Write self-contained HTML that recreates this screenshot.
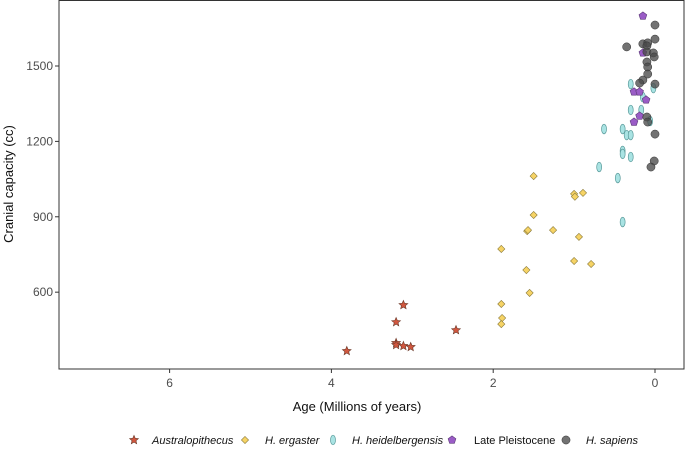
<!DOCTYPE html>
<html><head><meta charset="utf-8"><style>
body{margin:0;background:#fff}
svg text{font-family:"Liberation Sans",sans-serif}
</style></head><body>
<svg id="chart" width="685" height="455" viewBox="0 0 685 455">
<rect x="0" y="0" width="685" height="455" fill="#fff"/>
<g id="marks"></g>
<g id="axes"></g>
<g id="legend"></g>
</svg>
<script>
const ausAge=[3.81,3.20,3.11,3.20,3.20,3.11,3.02,2.46];
const ausCap=[366,481,549,398,390,386,382,449];
const ergAge=[1.50,1.00,0.99,0.89,1.50,1.58,1.57,1.26,0.94,1.90,1.00,0.79,1.59,1.55,1.90,1.89,1.90];
const ergCap=[1062,991,980,995,907,843,847,847,820,772,724,712,688,597,553,497,473];
const heiAge=[0.30,0.02,0.15,0.30,0.17,0.06,0.63,0.40,0.35,0.30,0.40,0.40,0.30,0.69,0.46,0.40];
const heiCap=[1428,1412,1376,1325,1325,1281,1249,1249,1225,1225,1162,1150,1138,1098,1054,879];
const lpAge=[0.15,0.15,0.26,0.19,0.11,0.19,0.26];
const lpCap=[1699,1552,1397,1397,1365,1301,1277];
const sapAge=[0.0,0.0,0.35,0.15,0.09,0.10,0.10,0.02,0.01,0.10,0.09,0.09,0.15,0.19,0.0,0.10,0.09,0.0,0.01,0.05];
const sapCap=[1663,1607,1576,1588,1592,1580,1556,1552,1536,1516,1496,1468,1444,1432,1428,1297,1277,1229,1122,1098];
const xTicks=[6,4,2,0];
const yTicks=[600,900,1200,1500];
const legendLabels=["Australopithecus","H. ergaster","H. heidelbergensis","Late Pleistocene","H. sapiens"];

const NS="http://www.w3.org/2000/svg";
const L=59,R=684,T=0,B=369;
function xs(a){return 655-a*80.9;}
function ys(v){return 66+(1500-v)*0.2513;}
function mk(tag,attrs,parent){const e=document.createElementNS(NS,tag);for(const k in attrs)e.setAttribute(k,attrs[k]);parent.appendChild(e);return e;}
function starPts(cx,cy,r){let p=[];for(let i=0;i<10;i++){const rr=i%2?r*0.45:r;const a=-Math.PI/2+i*Math.PI/5;p.push((cx+rr*Math.cos(a)).toFixed(1)+","+(cy+rr*Math.sin(a)).toFixed(1));}return p.join(" ");}
function pentPts(cx,cy,r){let p=[];for(let i=0;i<5;i++){const a=-Math.PI/2+i*2*Math.PI/5;p.push((cx+r*Math.cos(a)).toFixed(1)+","+(cy+r*Math.sin(a)).toFixed(1));}return p.join(" ");}
function drawShape(kind,cx,cy,parent){
  let e;
  if(kind==0)e=mk("polygon",{points:starPts(cx,cy,4.6),fill:"#d1573f",stroke:"#6b3a2a","stroke-width":0.6},parent);
  else if(kind==1)e=mk("polygon",{points:`${cx},${cy-3.6} ${cx+3.6},${cy} ${cx},${cy+3.6} ${cx-3.6},${cy}`,fill:"#f6d365",stroke:"#8a7a3a","stroke-width":0.6},parent);
  else if(kind==2)e=mk("ellipse",{cx:cx,cy:cy,rx:2.5,ry:4.8,fill:"#a9e3e3",stroke:"#5a9a9a","stroke-width":0.7},parent);
  else if(kind==3)e=mk("polygon",{points:pentPts(cx,cy,4.1),fill:"#9a5cc6",stroke:"#5c3a78","stroke-width":0.6},parent);
  else e=mk("circle",{cx:cx,cy:cy,r:4.1,fill:"#4a4a4a","fill-opacity":0.78,stroke:"#333","stroke-width":0.5},parent);
  return e;
}
const marks=document.getElementById("marks");
const series=[[ausAge,ausCap,"australopithecus"],[ergAge,ergCap,"h-ergaster"],[heiAge,heiCap,"h-heidelbergensis"],[lpAge,lpCap,"late-pleistocene"],[sapAge,sapCap,"h-sapiens"]];
series.forEach((s,k)=>{
  const g=mk("g",{},marks);
  
  
  s[0].forEach((a,i)=>{
    const e=drawShape(k,xs(a),ys(s[1][i]),g);
    
    
  });
});
const axes=document.getElementById("axes");
const frame=mk("rect",{x:L,y:T+0.5,width:R-L,height:B-T-0.5,fill:"none",stroke:"#333","stroke-width":1},axes);


xTicks.forEach(t=>{
  const x=xs(t);
  mk("line",{x1:x,x2:x,y1:B,y2:B+4,stroke:"#333"},axes);
  const tx=mk("text",{x:x,y:B+18,"text-anchor":"middle","font-size":12,fill:"#4d4d4d"},axes);
  tx.textContent=t;
  
  
});
yTicks.forEach(t=>{
  const y=ys(t);
  mk("line",{x1:L-4,x2:L,y1:y,y2:y,stroke:"#333"},axes);
  const tx=mk("text",{x:L-6,y:y+4,"text-anchor":"end","font-size":12,fill:"#4d4d4d"},axes);
  tx.textContent=t;
  
  
});
const xt=mk("text",{x:357,y:411,"text-anchor":"middle","font-size":13,fill:"#111"},axes);
xt.textContent="Age (Millions of years)";


const yt=mk("text",{x:0,y:0,"text-anchor":"middle","font-size":13,fill:"#111",transform:"translate(13,184) rotate(-90)"},axes);
yt.textContent="Cranial capacity (cc)";


const legend=document.getElementById("legend");
const lx=[134,245,333,452,566];
const tx=[152,265,352,474,586];
legendLabels.forEach((lab,k)=>{
  const g=mk("g",{},legend);
  
  
  drawShape(k,lx[k],440,g);
  const t=mk("text",{x:tx[k],y:444,"font-size":11,fill:"#111","font-style":k==3?"normal":"italic"},g);
  t.textContent=lab;
});
</script>
</body></html>
